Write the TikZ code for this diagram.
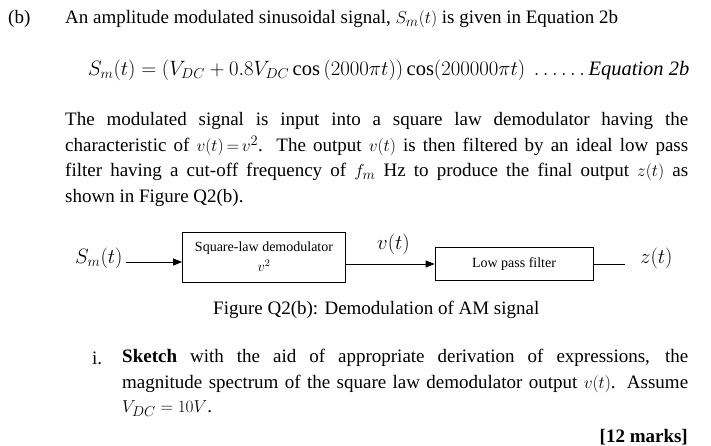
\documentclass[tikz,border=0pt]{standalone}
\usepackage{fontspec}
\setmainfont{Liberation Serif}
\usepackage{amsmath}
\usetikzlibrary{arrows.meta}
\begin{document}
\begin{tikzpicture}[x=1pt,y=-1pt,
  txt/.style={anchor=west,inner sep=0pt,font=\fontsize{19}{22}\selectfont},
  bx/.style={draw,thick,minimum width=#1,inner sep=2pt,font=\fontsize{14}{15}\selectfont,align=center},
  arr/.style={-{Triangle[length=9pt,width=7pt]},thick}]
\useasboundingbox (0,0) rectangle (711,445);
\node[txt] (b) at (8,19) {(b)};
\node[txt] (l1) at (65,19) {An amplitude modulated sinusoidal signal, $S_m(t)$ is given in Equation 2b};
\node[txt,font=\fontsize{20.5}{22}\selectfont] (eq) at (88,70) {$S_m(t)=(V_{DC}+0.8V_{DC}\cos{(2000\pi t)})\cos(200000\pi t)\ \ldots\ldots \mathit{Equation\ 2b}$};
\node[txt] (p1) at (65,121) {\makebox[623pt][s]{The modulated signal is input into a square law demodulator having the}};
\node[txt] (p2) at (65,146) {\makebox[623pt][s]{characteristic of $v(t)\,{=}\,v^2$. The output $v(t)$ is then filtered by an ideal low pass}};
\node[txt] (p3) at (65,172) {\makebox[623pt][s]{filter having a cut-off frequency of $f_m$ Hz to produce the final output $z(t)$ as}};
\node[txt] (p4) at (65,198) {shown in Figure Q2(b).};
\node[txt,font=\fontsize{21}{22}\selectfont] (sm) at (75,258) {$S_m(t)$};
\node[bx=163pt,minimum height=50pt] (b1) at (264,257) {Square-law demodulator\\[5pt]$v^2$};
\node[txt,font=\fontsize{21}{22}\selectfont] (vt) at (377,244) {$v(t)$};
\node[bx=158pt,minimum height=33pt] (b2) at (514,264) {Low pass filter};
\node[txt,font=\fontsize{21}{22}\selectfont] (zt) at (640,258) {$z(t)$};
\draw[arr] (sm.east) ++(3,4) -- (b1.west |- 0,262);
\draw[arr] (b1.east |- 0,264) -- (b2.west);
\coordinate (zend) at (625,264);
\draw[thick] (b2.east) -- (zend);
\node[txt] (cap) at (213,310) {Figure Q2(b): Demodulation of AM signal};
\node[txt] (i) at (92,358) {i.};
\node[txt] (q1) at (122,358) {\makebox[566pt][s]{\textbf{Sketch} with the aid of appropriate derivation of expressions, the}};
\node[txt] (q2) at (122,384) {\makebox[566pt][s]{magnitude spectrum of the square law demodulator output $v(t)$. Assume}};
\node[txt] (q3) at (122,409) {$V_{DC}=10V$.};
\node[txt,anchor=east] (m) at (688,437) {\textbf{[12 marks]}};
\end{tikzpicture}
\end{document}
